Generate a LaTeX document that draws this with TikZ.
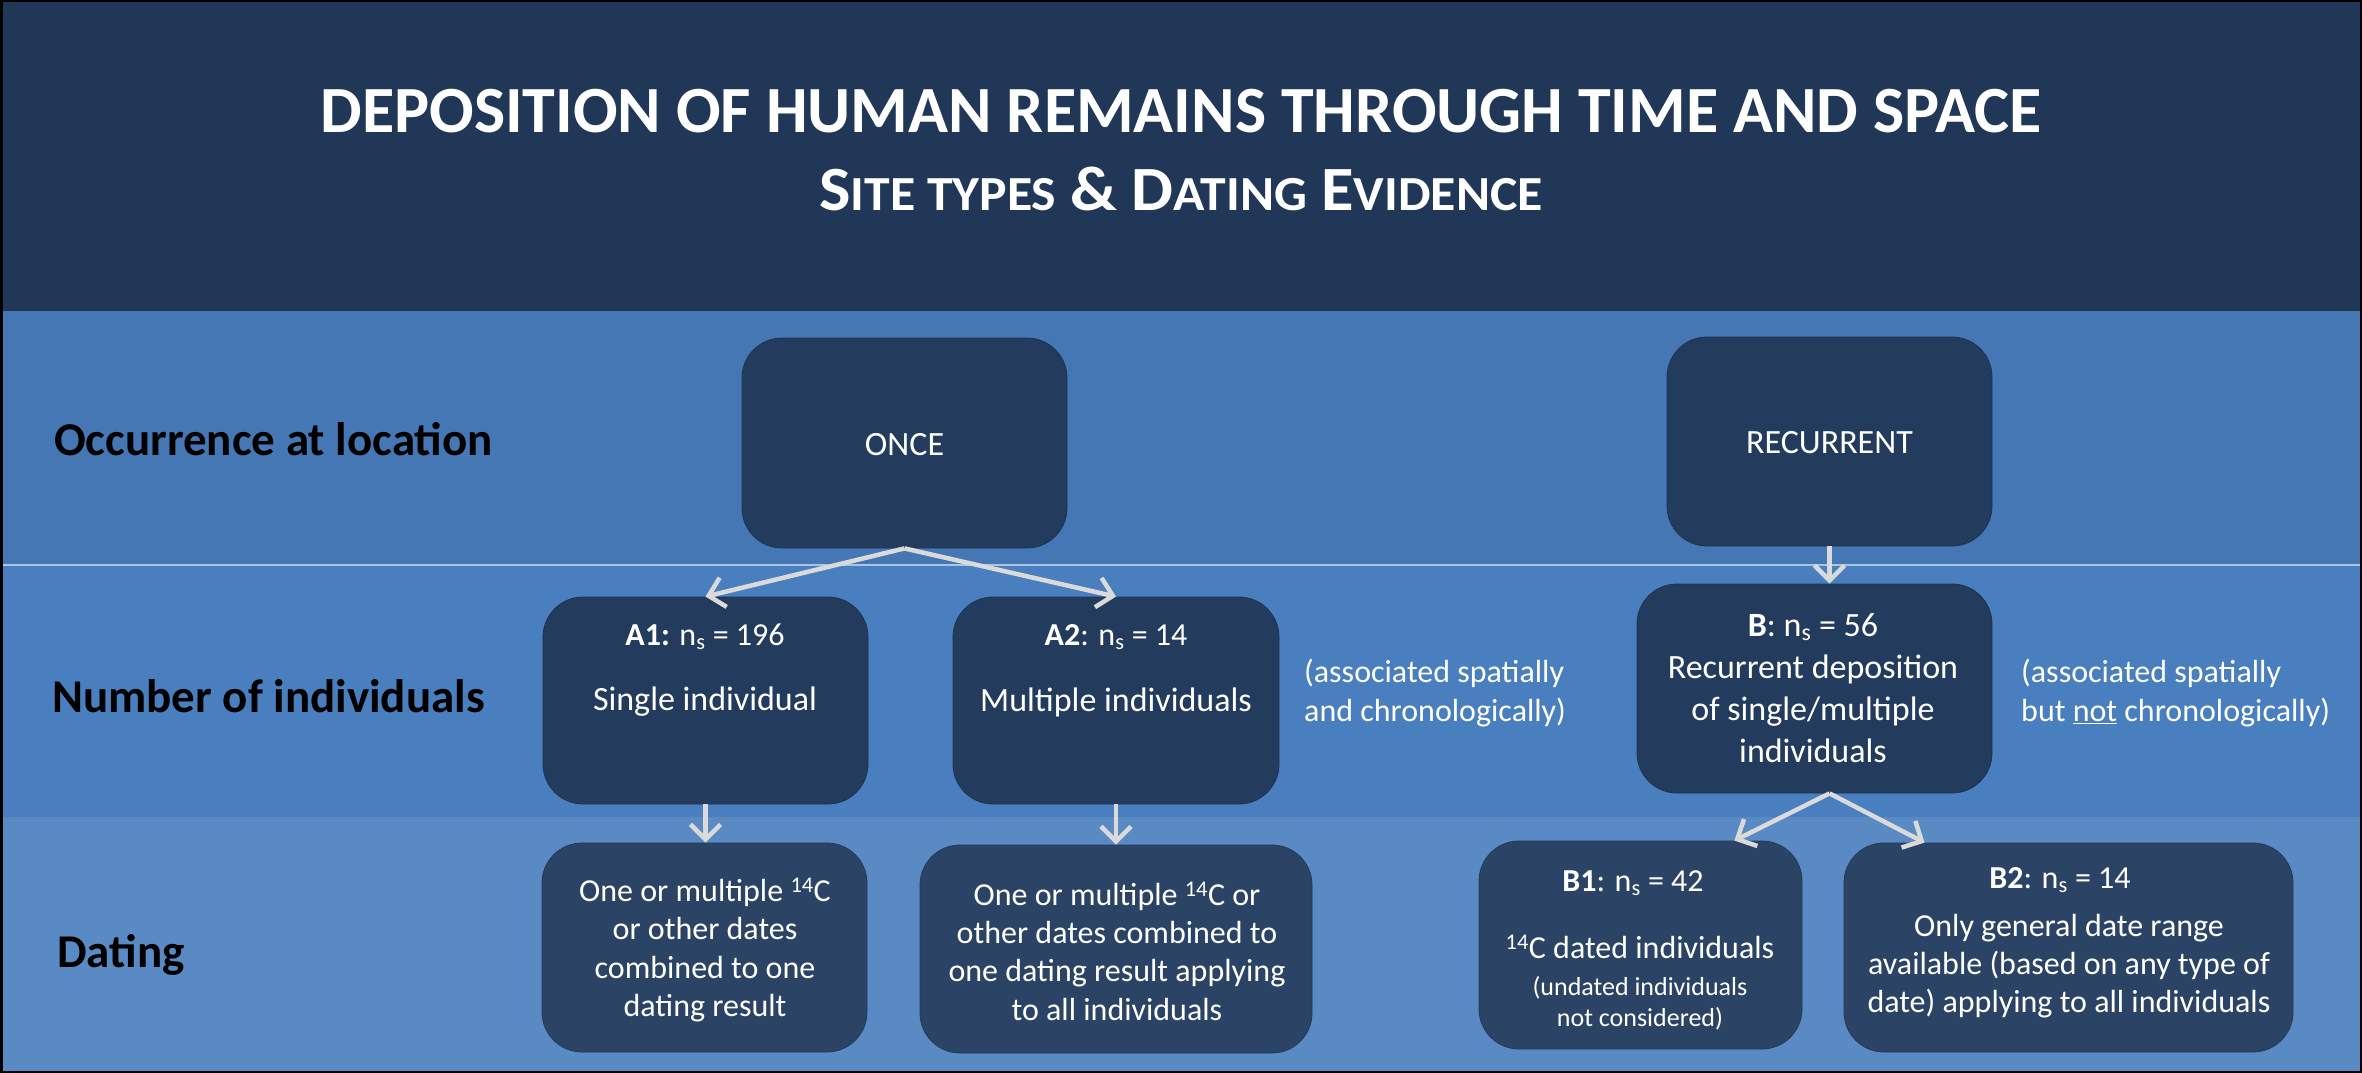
\documentclass[tikz,border=0pt]{standalone}
\usepackage{fontspec}
\setmainfont{Carlito}
\usetikzlibrary{arrows.meta,calc}
\definecolor{titlebg}{HTML}{203757}
\definecolor{rowone}{HTML}{4577B5}
\definecolor{rowtwo}{HTML}{4A7FBF}
\definecolor{rowthree}{HTML}{5A8AC4}
\definecolor{sepc}{HTML}{A9C4E4}
\definecolor{boxc}{HTML}{233C5D}
\definecolor{dboxc}{HTML}{2B4465}
\definecolor{arrc}{HTML}{DADADA}
\newcommand\mybody{\fontsize{34}{42}\selectfont}
\newcommand\mydate{\fontsize{32}{38.3}\selectfont}
\newcommand\mysmall{\fontsize{26}{31}\selectfont}
\newcommand\myhead{\fontsize{32}{38}\selectfont}
\newcommand\bigsc[1]{{\fontsize{63}{63}\selectfont #1}}
\newcommand\smsc[1]{{\fontsize{49}{49}\selectfont #1}}
\begin{document}
\begin{tikzpicture}[x=1pt,y=-1pt,
  box/.style={fill=boxc, draw=boxc!85!black, line width=0.8pt, rounded corners=40pt, inner sep=0pt},
  dbox/.style={box, fill=dboxc, draw=dboxc!85!black},
  btext/.style={text=white, font=\mybody, inner sep=0pt, align=center},
  dtext/.style={btext, font=\mydate},
  htext/.style={btext, font=\myhead},
  rowlabel/.style={text=black, font=\fontsize{47}{50}\selectfont\bfseries, inner sep=0pt, anchor=base west},
  note/.style={text=white, font=\mydate, inner sep=0pt, align=left, anchor=west},
  arr/.style={draw=arrc, line width=4.5pt, -{Straight Barb[length=15pt,width=30pt]}}]
\useasboundingbox (0,0) rectangle (2362,1073);
% bands
\fill[titlebg] (0,0) rectangle (2362,311);
\fill[rowone] (0,311) rectangle (2362,565);
\fill[rowtwo] (0,565) rectangle (2362,817);
\fill[rowthree] (0,817) rectangle (2362,1073);
\draw[sepc, line width=2pt] (0,565) -- (2362,565);
\draw[black, line width=5pt] (0,0) rectangle (2362,1073);
% title
\node[text=white, font=\fontsize{66}{70}\selectfont\bfseries, inner sep=0pt] (title) at (1181,111)
  {DEPOSITION OF HUMAN REMAINS THROUGH TIME AND SPACE};
\node[text=white, font=\fontsize{60}{62}\selectfont\bfseries, inner sep=0pt, anchor=base] (subtitle) at (1181,210)
  {\scalebox{1.055}[1]{\bigsc{S}\smsc{ITE TYPES} \bigsc{\&} \bigsc{D}\smsc{ATING} \bigsc{E}\smsc{VIDENCE}}};
% row labels
\node[rowlabel] (lab1) at (54,455) {Occurrence at location};
\node[rowlabel] (lab2) at (52,712) {Number of individuals};
\node[rowlabel] (lab3) at (57,967) {Dating};
% boxes
\node[box, minimum width=325pt, minimum height=210pt] (once) at (904.5,443) {};
\node[box, minimum width=325pt, minimum height=209pt] (rec) at (1829.5,441.5) {};
\node[box, minimum width=325pt, minimum height=207pt] (A1) at (705.5,700.5) {};
\node[box, minimum width=326pt, minimum height=207pt] (A2) at (1116,700.5) {};
\node[box, minimum width=355pt, minimum height=209pt] (B) at (1814.5,688.5) {};
\node[dbox, minimum width=325pt, minimum height=209pt] (D1) at (704.5,947.5) {};
\node[dbox, minimum width=392pt, minimum height=208pt] (D2) at (1116,949) {};
\node[dbox, minimum width=323pt, minimum height=208pt] (B1) at (1640.5,945) {};
\node[dbox, minimum width=449pt, minimum height=209pt] (B2) at (2068.5,947.5) {};
% box texts
\node[btext] (oncet) at (904.5,445) {ONCE};
\node[btext] (rect) at (1829.5,443) {RECURRENT};
\node[htext] (A1h) at (705,637) {\textbf{A1:} n\textsubscript{s} = 196};
\node[btext] (A1t) at (705,702) {Single individual};
\node[htext] (A2h) at (1116,637) {\textbf{A2}: n\textsubscript{s} = 14};
\node[btext] (A2t) at (1116,702) {Multiple individuals};
\node[btext] (Bt) at (1813,688) {\textbf{B}: n\textsubscript{s} = 56\\Recurrent deposition\\of single/multiple\\individuals};
\node[dtext] (D1t) at (705,950) {One or multiple \textsuperscript{14}C\\or other dates\\combined to one\\dating result};
\node[dtext] (D2t) at (1117,951) {One or multiple \textsuperscript{14}C or\\other dates combined to\\one dating result applying\\to all individuals};
\node[htext] (B1h) at (1633,883) {\textbf{B1}: n\textsubscript{s} = 42};
\node[dtext] (B1t) at (1640,947) {\textsuperscript{14}C dated individuals};
\node[dtext, font=\mysmall] (B1s) at (1640,1003) {(undated individuals\\not considered)};
\node[htext] (B2h) at (2060,880) {\textbf{B2}: n\textsubscript{s} = 14};
\node[dtext] (B2t) at (2069,966) {Only general date range\\available (based on any type of\\date) applying to all individuals};
% notes
\node[note] (n1) at (1304,693) {(associated spatially\\and chronologically)};
\node[note] (n2) at (2021,693) {(associated spatially\\but \underline{not} chronologically)};
% arrows
\draw[arr] (once.south) -- (A1.north);
\draw[arr] (once.south) -- (A2.north);
\draw[arr] (rec.south) -- (rec.south |- B.north);
\draw[arr] (A1.south) -- (A1.south |- D1.north);
\draw[arr] (A2.south) -- (A2.south |- D2.north);
\coordinate (Bfork) at (B.south -| rec.south);
\draw[arr] (Bfork) -- ($(B1.north west)!0.79!(B1.north east)$);
\draw[arr] (Bfork) -- ($(B2.north west)!0.18!(B2.north east)$);
\end{tikzpicture}
\end{document}
